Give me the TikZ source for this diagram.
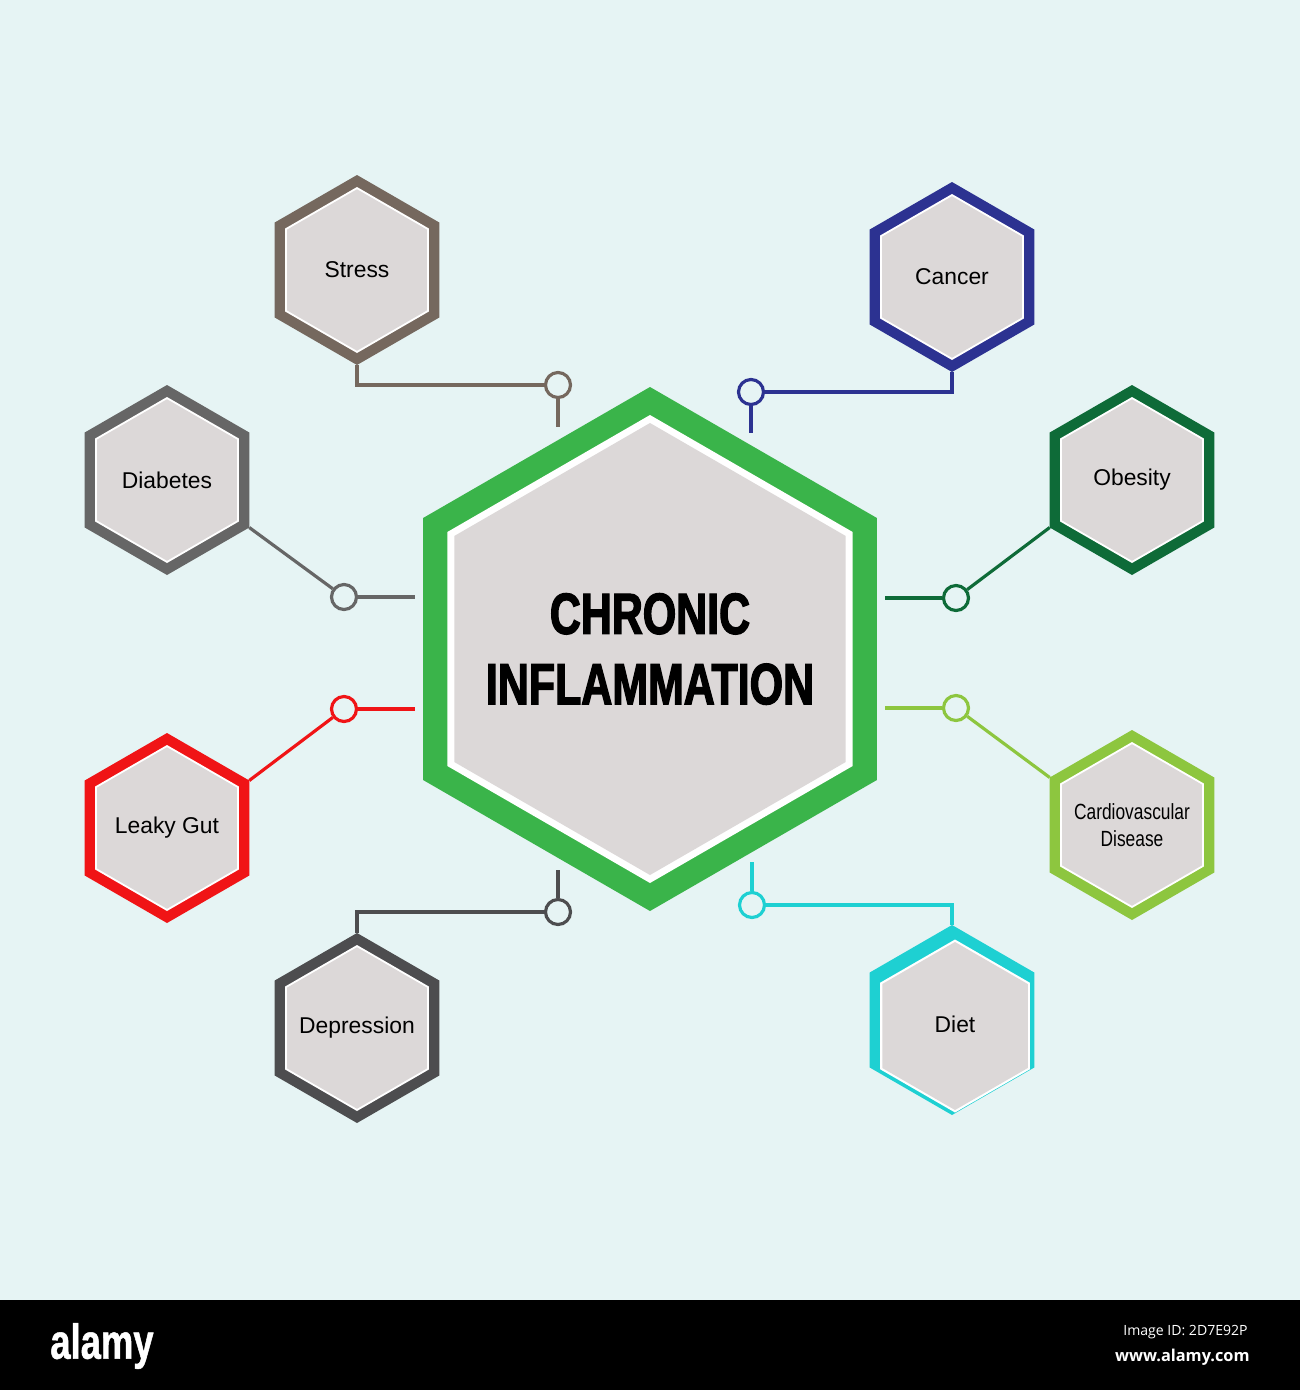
\documentclass[tikz,border=0pt]{standalone}
\usepackage{fontspec}
\setmainfont{Liberation Sans}
\newfontfamily\narrowfont{Liberation Sans}[FakeStretch=0.79]
\newfontfamily\titlefont{Liberation Sans}[FakeStretch=0.74,FakeBold=2.2]
\newfontfamily\logofont{Liberation Sans}[FakeStretch=0.74,FakeBold=1]
\newfontfamily\idfont{Open Sans}
\usetikzlibrary{shapes.geometric}

\definecolor{bgcol}{RGB}{230,244,244}
\definecolor{hexgray}{RGB}{220,216,216}
\definecolor{coregreen}{RGB}{58,180,74}
\definecolor{stresscol}{RGB}{117,104,94}
\definecolor{cancercol}{RGB}{44,50,145}
\definecolor{diabcol}{RGB}{102,102,102}
\definecolor{obescol}{RGB}{14,107,56}
\definecolor{leakycol}{RGB}{240,20,22}
\definecolor{cardiocol}{RGB}{141,198,63}
\definecolor{deprcol}{RGB}{77,77,79}
\definecolor{dietcol}{RGB}{30,208,210}

\tikzset{
	hexa/.style={regular polygon, regular polygon sides=6, shape border rotate=30,
		inner sep=0pt, outer sep=0pt},
	lbl/.style={font=\fontsize{13}{15}\selectfont, align=center, inner sep=0pt},
	conn/.style={draw=#1, line width=1.8pt},
	ring/.style={circle, draw=#1, fill=bgcol, line width=1.8pt, minimum size=5mm, inner sep=0pt},
}

% colour, position, name, text
\def\hexa[#1](#2)#3#4{%
	\node[hexa, fill=#1, minimum size=38mm] (#3) at (#2) {};
	\node[hexa, fill=white, minimum size=33.2mm] (#3w) at (#2) {};
	\node[hexa, fill=hexgray, minimum size=32.3mm] (#3i) at (#2) {};
	\node[lbl] (#3t) at (#2) {#4};
}

\begin{document}
\begin{tikzpicture}[x=0.2mm, y=-0.2mm]
		%%%%% START %%%%%
		\useasboundingbox (0,0) rectangle (1300,1390);
		\fill[bgcol] (0,0) rectangle (1300,1300);
		\fill[black] (0,1300) rectangle (1300,1390);
		
		% centre
		\node[hexa, fill=coregreen, minimum size=104.8mm] (core) at (650,649) {};
		\node[hexa, fill=white, minimum size=93.6mm] (corew) at (650,649) {};
		\node[hexa, fill=hexgray, minimum size=90.4mm] (corei) at (650,649) {};
		\node[align=center, inner sep=0pt,
			font=\titlefont\bfseries\fontsize{33}{40}\selectfont] (coret) at (650,649) {CHRONIC\\INFLAMMATION};
		
		% satellites
		\hexa[stresscol](357,270){stress}{Stress}
		\hexa[cancercol](952,277){cancer}{Cancer}
		\hexa[diabcol](167,480){diab}{Diabetes}
		\hexa[obescol](1132,480){obes}{Obesity}
		\hexa[leakycol](167,828){leaky}{Leaky Gut}
		\hexa[cardiocol](1132,825){cardio}{}
		\node[lbl, font=\narrowfont\fontsize{12.5}{15.3}\selectfont] (cardiolbl) at (1132,825) {Cardiovascular\\Disease};
		\hexa[deprcol](357,1028){depr}{Depression}
		
		\node[hexa, fill=dietcol, minimum size=38mm] (diet) at (952,1020) {};
		\node[hexa, fill=white, minimum size=34.6mm] (dietw) at (955,1026) {};
		\node[hexa, fill=hexgray, minimum size=33.6mm] (dieti) at (955,1026) {};
		\node[lbl] (dietlbl) at (955,1024) {Diet};
		
		% rings and ends
		\node[ring=stresscol] (rS) at (558,385) {};
		\node[ring=cancercol] (rCa) at (751,392) {};
		\node[ring=diabcol] (rD) at (344,597) {};
		\node[ring=obescol] (rO) at (956,598) {};
		\node[ring=leakycol] (rL) at (344,709) {};
		\node[ring=cardiocol] (rC) at (956,708) {};
		\node[ring=deprcol] (rDp) at (558,912) {};
		\node[ring=dietcol] (rDt) at (752,905) {};
		
		\coordinate (eS) at (558,427);
		\coordinate (eCa) at (751,433);
		\coordinate (eD) at (415,597);
		\coordinate (eO) at (885,598);
		\coordinate (eL) at (415,709);
		\coordinate (eC) at (885,708);
		\coordinate (eDp) at (558,870);
		\coordinate (eDt) at (752,862);
		
		\draw[conn=stresscol] (stress.south) |- (rS);
		\draw[conn=stresscol] (rS) -- (eS);
		\draw[conn=cancercol] (cancer.south) |- (rCa);
		\draw[conn=cancercol] (rCa) -- (eCa);
		\draw[conn=diabcol] (diab.-30) -- (rD);
		\draw[conn=diabcol] (rD) -- (eD);
		\draw[conn=obescol] (obes.210) -- (rO);
		\draw[conn=obescol] (rO) -- (eO);
		\draw[conn=leakycol] (leaky.30) -- (rL);
		\draw[conn=leakycol] (rL) -- (eL);
		\draw[conn=cardiocol] (cardio.150) -- (rC);
		\draw[conn=cardiocol] (rC) -- (eC);
		\draw[conn=deprcol] (depr.north) |- (rDp);
		\draw[conn=deprcol] (rDp) -- (eDp);
		\draw[conn=dietcol] (diet.north) |- (rDt);
		\draw[conn=dietcol] (rDt) -- (eDt);
		
		% footer
		\node[anchor=west, inner sep=0pt, text=white,
			font=\logofont\bfseries\fontsize{28}{28}\selectfont] (logo) at (50,1346) {alamy};
		\node[anchor=east, inner sep=0pt, text=white,
			font=\idfont\fontsize{8}{8}\selectfont] (imgid) at (1248,1332) {Image ID: 2D7E92P};
		\node[anchor=east, inner sep=0pt, text=white,
			font=\idfont\bfseries\fontsize{9.3}{9.3}\selectfont] (site) at (1250,1357) {www.alamy.com};
		%%%%% END %%%%%
\end{tikzpicture}
\end{document}
